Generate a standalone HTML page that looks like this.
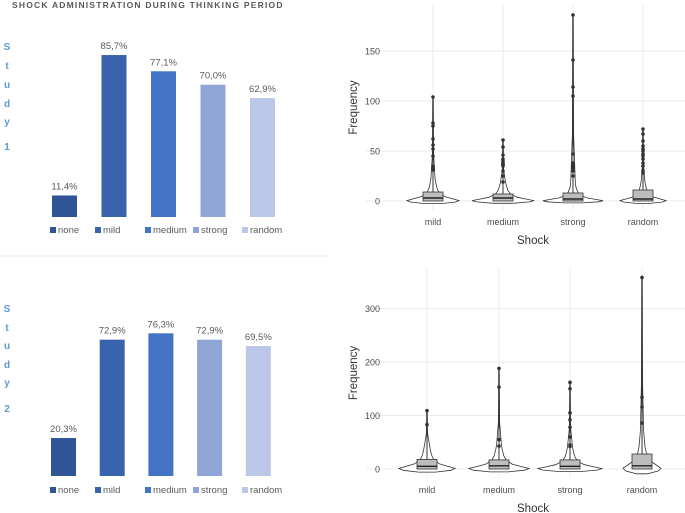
<!DOCTYPE html>
<html><head><meta charset="utf-8"><style>
body{margin:0;background:#fff;width:685px;height:513px;overflow:hidden;font-family:"Liberation Sans",sans-serif}
svg{position:absolute;left:0;top:0}
</style></head><body>
<svg id="s" width="685" height="513" xmlns="http://www.w3.org/2000/svg">
<text x="12" y="8" font-size="8.5" font-weight="bold" fill="#595959" letter-spacing="1.2">SHOCK ADMINISTRATION DURING THINKING PERIOD</text>
<line x1="0" y1="256" x2="330" y2="256" stroke="#eee"/>
<g id="bars"></g><g id="vio"></g>
</svg>
<script>
const barCats=["none","mild","medium","strong","random"];
const study1Vals=[11.4,85.7,77.1,70.0,62.9];
const study1Labels=["11,4%","85,7%","77,1%","70,0%","62,9%"];
const study2Vals=[20.3,72.9,76.3,72.9,69.5];
const study2Labels=["20,3%","72,9%","76,3%","72,9%","69,5%"];
const barColors=["#2f5597","#3a63ad","#4472c4","#8fa5d6","#bac7e6"];

const vCats=["mild","medium","strong","random"];
// study1: q1, median, q3, max
const s1Box=[[0,3,9,104],[0,3,7,61],[0,2,8,186],[0,2,11,72]];
const s1Out=[[104,78,75,62,56,52,45,35,33,32,31],[61,54,46,42,40,38,37,36,35,30,25,19],[186,141,114,105,47,38,35,33,30,25],[72,67,60,55,52,50,47,45,42,38,35,30,28]];
const s1Width=[26,31,30,23];
const s1Neck=[22,19,16,20];
const s1Ticks=[0,50,100,150];
const s2Box=[[0,5,18,109],[0,6,17,188],[0,5,17,162],[0,6,28,358]];
const s2Out=[[109,83],[188,153,55,43],[162,150,105,92,78,60,45,42],[358,134,116,86]];
const s2Width=[28,30,32,19];
const s2Neck=[48,45,40,75];
const s2Ticks=[0,100,200,300];
// violin profile: [fraction of neck height, relative half-width]
const profile=[[-0.12,0.3],[-0.05,0.85],[0.02,1],[0.1,0.75],[0.2,0.45],[0.35,0.25],[0.55,0.16],[0.8,0.11],[1,0.08]];

const NS="http://www.w3.org/2000/svg";
const svg=document.getElementById('s');
function mk(tag,attrs,parent,txt){const e=document.createElementNS(NS,tag);for(const k in attrs)e.setAttribute(k,attrs[k]);if(txt!==undefined)e.textContent=txt;(parent||svg).appendChild(e);return e;}

function barChart(vals,labels,base,scale,x0,step,legendY,letters,letterYs,name){
  const g=mk('g',{});
  
  
  vals.forEach((v,i)=>{
    const h=v*scale,x=x0+i*step;
    const r=mk('rect',{x:x,y:base-h,width:25,height:h,fill:barColors[i]},g);
    
    
    const t=mk('text',{x:x+12.5,y:base-h-6,'font-size':9.5,fill:'#595959','text-anchor':'middle'},g,labels[i]);
    
    
    const lx=[50,95,145,193,242][i];
    const sq=mk('rect',{x:lx,y:legendY-6,width:6,height:6,fill:barColors[i]},g);
    
    
    const lt=mk('text',{x:lx+8,y:legendY,'font-size':9.5,fill:'#595959'},g,barCats[i]);
    
    
  });
  letters.forEach((c,i)=>{
    const t=mk('text',{x:7,y:letterYs[i],'font-size':10,'font-weight':'bold',fill:'#5b9bd5','text-anchor':'middle'},g,c);
    
    
  });
}
barChart(study1Vals,study1Labels,217,1.89,52,49.5,233,["S","t","u","d","y","1"],[50,69,88,107,125,150],'study1-bar-chart');
barChart(study2Vals,study2Labels,476,1.87,51,48.7,493,["S","t","u","d","y","2"],[312,331,349,368,386,412],'study2-bar-chart');

function violin(box,outs,widths,necks,ticks,y0,ppu,xs,top,bottom,labelY,titleY,name){
  const g=mk('g',{});
  
  
  const Y=v=>y0-v*ppu;
  ticks.forEach(t=>{
    const l=mk('line',{x1:366,x2:685,y1:Y(t),y2:Y(t),stroke:'#ebebeb','stroke-width':1},g);
    
    
    const tx=mk('text',{x:380,y:Y(t)+3.5,'font-size':9,fill:'#4d4d4d','text-anchor':'end'},g,t);
    
    
  });
  xs.forEach((x,i)=>{
    const l=mk('line',{x1:x,x2:x,y1:top,y2:bottom,stroke:'#ebebeb'},g);
    
    
  });
  xs.forEach((x,i)=>{
    const [q1,md,q3,mx]=box[i];const w=widths[i];const nk=necks[i];
    let right=profile.map(p=>[x+p[1]*w,Y(p[0]*nk)]);
    right.push([x+0.6,Y(nk+(mx-nk)*0.3)],[x+0.3,Y(mx)]);
    let left=right.slice().reverse().map(p=>[2*x-p[0],p[1]]);
    const d='M'+right.concat(left).map(p=>p[0].toFixed(1)+','+p[1].toFixed(1)).join('L')+'Z';
    const v=mk('path',{d:d,fill:'#fff',stroke:'#333','stroke-width':0.8},g);
    
    
    const wl=mk('line',{x1:x,x2:x,y1:Y(q3),y2:Y(mx),stroke:'#333','stroke-width':1},g);
    
    
    const b=mk('rect',{x:x-10,y:Y(q3),width:20,height:Math.max(1,(q3-q1)*ppu),fill:'#bdbdbd',stroke:'#333','stroke-width':0.8},g);
    
    
    const m=mk('line',{x1:x-10,x2:x+10,y1:Y(md),y2:Y(md),stroke:'#222','stroke-width':1.4},g);
    
    
    outs[i].forEach(o=>{
      const c=mk('circle',{cx:x,cy:Y(o),r:1.8,fill:'#333'},g);
      
      
    });
    const t=mk('text',{x:x,y:labelY,'font-size':9,fill:'#4d4d4d','text-anchor':'middle'},g,vCats[i]);
    
    
  });
  const xt=mk('text',{x:533,y:titleY,'font-size':11.5,fill:'#333','text-anchor':'middle'},g,'Shock');
  
  
  const cy=(top+bottom)/2;
  const yt=mk('text',{x:357,y:cy,'font-size':11.5,fill:'#333','text-anchor':'middle',transform:'rotate(-90 357 '+cy+')'},g,'Frequency');
  
  
}
violin(s1Box,s1Out,s1Width,s1Neck,s1Ticks,201,1.0,[433,503,573,643],5,210,225,244,'study1-violin-chart');
violin(s2Box,s2Out,s2Width,s2Neck,s2Ticks,469,0.535,[427,499,570,642],268,478,493,512,'study2-violin-chart');
</script>
</body></html>
